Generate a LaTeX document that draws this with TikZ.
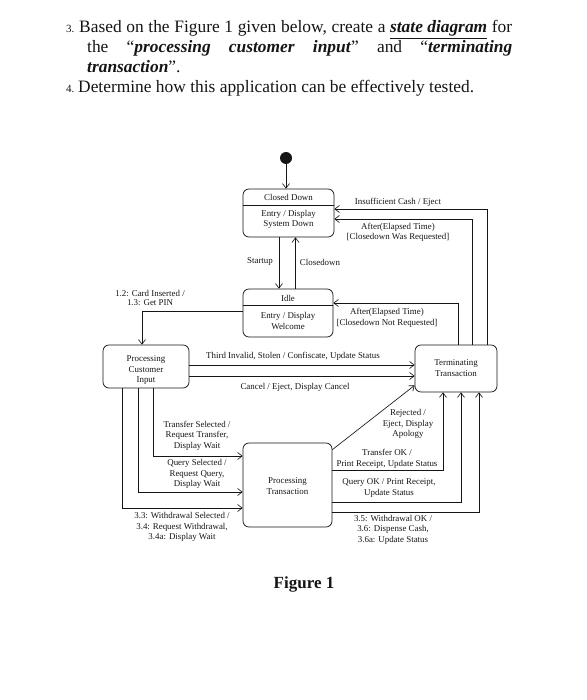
\documentclass[tikz,border=0pt]{standalone}
\usepackage{fontspec}
\setmainfont{Liberation Serif}
\usetikzlibrary{positioning, arrows.meta, calc}
\definecolor{inkgray}{HTML}{151515}

\tikzset{
  state/.style={draw=inkgray, rounded corners=6pt, line width=0.75pt, inner sep=0pt},
  lbl/.style={text=inkgray, align=center, inner sep=0pt, font=\fontsize{8.9}{10.5}\selectfont},
  trans/.style={draw=inkgray, line width=0.65pt, -{Straight Barb[length=4.5pt, width=7pt]}},
  qtext/.style={anchor=base west, inner sep=0pt, text=inkgray, font=\fontsize{17.4}{20}\selectfont},
  qnum/.style={anchor=base west, inner sep=0pt, text=inkgray, font=\fontsize{11}{12}\selectfont},
}

\begin{document}
\begin{tikzpicture}[x=1pt, y=-1pt]
  \useasboundingbox (0,0) rectangle (586,700);

  % question text
  \node[qnum] (num3) at (66,33) {3.};
  \node[qtext] (q1) at (79,33) {\makebox[433pt][s]{Based on the Figure 1 given below, create a \underline{\textbf{\textit{state diagram}}} for}};
  \node[qtext] (q2) at (87,53) {\makebox[425pt][s]{the “\textbf{\textit{processing}} \textbf{\textit{customer}} \textbf{\textit{input}}” and “\textbf{\textit{terminating}}}};
  \node[qtext] (q3) at (87,73) {\textbf{\textit{transaction}}”.};
  \node[qnum] (num4) at (66,93) {4.};
  \node[qtext] (q4) at (78,93) {Determine how this application can be effectively tested.};

  % states
  \node[circle, fill=inkgray, minimum size=12pt, inner sep=0pt] (init) at (286,158) {};

  \node[state, minimum width=91pt, minimum height=48pt] (cd) at (288.5,213) {};
  \node[lbl] (cdtitle) at (288.5,197.5) {Closed Down};
  \node[lbl] (cdbody) at (288.5,219.5) {Entry / Display\\System Down};
  \draw[inkgray, line width=0.75pt] (cd.west |- 0,205) -- (cd.east |- 0,205);

  \node[state, minimum width=90pt, minimum height=48pt] (idle) at (288,313) {};
  \node[lbl] (idletitle) at (288,298) {Idle};
  \node[lbl] (idlebody) at (288,321) {Entry / Display\\Welcome};
  \draw[inkgray, line width=0.75pt] (idle.west |- 0,305) -- (idle.east |- 0,305);

  \node[state, minimum width=86pt, minimum height=43pt] (pci) at (146,366.5) {};
  \node[lbl] (pcitext) at (146,370) {Processing\\Customer\\Input};

  \node[state, minimum width=82pt, minimum height=47pt] (term) at (456,368.5) {};
  \node[lbl] (termtext) at (456,368) {Terminating\\Transaction};

  \node[state, minimum width=89pt, minimum height=84pt] (pt) at (287.5,485) {};
  \node[lbl] (pttext) at (287.5,486) {Processing\\Transaction};

  % transitions
  \draw[trans] (init) -- (init |- cd.north);
  \draw[trans] ([xshift=-9.5pt]cd.south) -- ([xshift=-9.5pt]cd.south |- idle.north);
  \draw[trans] ([xshift=7.5pt]idle.north) -- ([xshift=7.5pt]idle.north |- cd.south);
  \draw[trans] ([xshift=31pt]term.north) |- ([yshift=4pt]cd.east);
  \draw[trans] ([xshift=16pt]term.north) |- ([yshift=-6pt]cd.east);
  \draw[trans] ([xshift=2pt]term.north) |- ([yshift=10pt]idle.east);
  \draw[trans] ([yshift=2pt]idle.west) -| ([xshift=-4pt]pci.north);
  \draw[trans] ([yshift=1.5pt]pci.east) -- ([yshift=1.5pt]pci.east -| term.west);
  \draw[trans] ([yshift=-9.5pt]pci.east) -- ([yshift=-9.5pt]pci.east -| term.west);
  \draw[trans] ([xshift=7pt]pci.south) |- ([yshift=29pt]pt.west);
  \draw[trans] ([xshift=-8pt]pci.south) |- ([yshift=-7pt]pt.west);
  \draw[trans] ([xshift=-24pt]pci.south) |- ([yshift=-23pt]pt.west);
  \draw[trans] ([yshift=-7pt]pt.north east) -- ([yshift=7pt]term.south west);
  \draw[trans] ([yshift=15pt]pt.east) -| ([xshift=-13pt]term.south);
  \draw[trans] ([yshift=-17pt]pt.east) -| ([xshift=5pt]term.south);
  \draw[trans] ([yshift=-27pt]pt.east) -| ([xshift=23pt]term.south);

  % transition labels
  \node[lbl] (lcash) at (398,202) {Insufficient Cash / Eject};
  \node[lbl] (lwas) at (398,232.5) {After(Elapsed Time)\\{}[Closedown Was Requested]};
  \node[lbl] (lstartup) at (260,262) {Startup};
  \node[lbl] (lclosedown) at (320,262) {Closedown};
  \node[lbl, font=\fontsize{8.9}{9}\selectfont] (lcard) at (150,298) {1.2: Card Inserted /\\1.3: Get PIN};
  \node[lbl] (lnot) at (387,318) {After(Elapsed Time)\\{}[Closedown Not Requested]};
  \node[lbl] (lthird) at (293,356) {Third Invalid, Stolen / Confiscate, Update Status};
  \node[lbl] (lcancel) at (295,387) {Cancel / Eject, Display Cancel};
  \node[lbl] (ltransel) at (197,435.5) {Transfer Selected /\\Request Transfer,\\Display Wait};
  \node[lbl] (lquerysel) at (197,474) {Query Selected /\\Request Query,\\Display Wait};
  \node[lbl] (lwithsel) at (182,527) {3.3: Withdrawal Selected /\\3.4: Request Withdrawal,\\3.4a: Display Wait};
  \node[lbl] (lreject) at (408,424) {Rejected /\\Eject, Display\\Apology};
  \node[lbl] (ltransok) at (387,459) {Transfer OK /\\Print Receipt, Update Status};
  \node[lbl] (lqueryok) at (389,488) {Query OK / Print Receipt,\\Update Status};
  \node[lbl] (lwithok) at (393,529.5) {3.5: Withdrawal OK /\\3.6: Dispense Cash,\\3.6a: Update Status};

  % caption
  \node[anchor=base, inner sep=0pt, text=inkgray, font=\fontsize{17}{20}\selectfont\bfseries] (fig) at (304,588) {Figure 1};
\end{tikzpicture}
\end{document}
